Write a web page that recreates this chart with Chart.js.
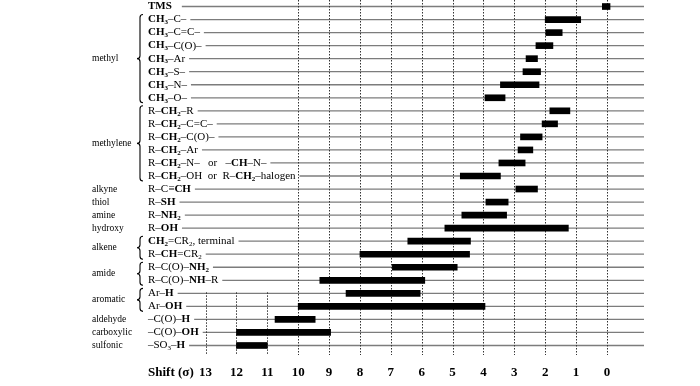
<!DOCTYPE html>
<html>
<head>
<meta charset="utf-8">
<script src="https://cdn.jsdelivr.net/npm/chart.js@4/dist/chart.umd.min.js"></script>
<style>
  html, body { margin: 0; padding: 0; background: #fff; }
  #chart { display: block; }
</style>
</head>
<body>
<canvas id="chart" width="700" height="386"></canvas>
<script>
// row labels: ^ toggles bold, _ puts the next char in subscript
const rowLabels = [
    '^TMS^',
    '^CH_3^–C–',
    '^CH_3^–C=C–',
    '^CH_3^–C(O)–',
    '^CH_3^–Ar',
    '^CH_3^–S–',
    '^CH_3^–N–',
    '^CH_3^–O–',
    'R–^CH_2^–R',
    'R–^CH_2^–C=C–',
    'R–^CH_2^–C(O)–',
    'R–^CH_2^–Ar',
    'R–^CH_2^–N–   or   –^CH^–N–',
    'R–^CH_2^–OH  or  R–^CH_2^–halogen',
    'R–C≡^CH^',
    'R–^SH^',
    'R–^NH_2^',
    'R–^OH^',
    '^CH_2^=CR_2, terminal',
    'R–^CH^=CR_2',
    'R–C(O)–^NH_2^',
    'R–C(O)–^NH^–R',
    'Ar–^H^',
    'Ar–^OH^',
    '–C(O)–^H^',
    '–C(O)–^OH^',
    '–SO_3–^H^'
];

// shift ranges in ppm
const shiftLow  = [-0.1, 0.85, 1.45, 1.75, 2.25, 2.15, 2.2, 3.3, 1.2, 1.6, 2.1, 2.4, 2.65, 3.45,
                   2.25, 3.2, 3.25, 1.25, 4.42, 4.45, 4.85, 5.9, 6.05, 3.95, 9.45, 8.95, 11.0];
const shiftHigh = [0.15, 2.0, 1.98, 2.3, 2.62, 2.72, 3.45, 3.95, 1.85, 2.1, 2.8, 2.88, 3.5, 4.75,
                   2.95, 3.92, 4.7, 5.25, 6.45, 8.0, 6.95, 9.3, 8.45, 10.0, 10.75, 12.0, 12.0];

const shiftTicks = [13, 12, 11, 10, 9, 8, 7, 6, 5, 4, 3, 2, 1, 0];

const groupNames = ['methyl', 'methylene', 'alkyne', 'thiol', 'amine', 'hydroxy', 'alkene',
                    'amide', 'aromatic', 'aldehyde', 'carboxylic', 'sulfonic'];
const groupStart = [1, 8, 14, 15, 16, 17, 18, 20, 22, 24, 25, 26];
const groupEnd   = [7, 13, 14, 15, 16, 17, 19, 21, 23, 24, 25, 26];

const SERIF = '"Liberation Serif", "Times New Roman", serif';

function parseRich(str) {
    const segs = [];
    let bold = false;
    for (let i = 0; i < str.length; i++) {
        const c = str[i];
        if (c === '^') { bold = !bold; continue; }
        if (c === '_') { segs.push({ t: str[i + 1], bold: bold, sub: true }); i++; continue; }
        const last = segs[segs.length - 1];
        if (last && !last.sub && last.bold === bold) last.t += c;
        else segs.push({ t: c, bold: bold, sub: false });
    }
    return segs;
}

function plain(str) {
    return str.replace(/[\^_]/g, '');
}

function drawRich(ctx, str, x, y) {
    parseRich(str).forEach(s => {
        const size = s.sub ? 7 : 11;
        ctx.font = (s.bold ? 'bold ' : '') + size + 'px ' + SERIF;
        ctx.fillText(s.t, x, s.sub ? y + 3 : y);
        x += ctx.measureText(s.t).width;
    });
    return x;
}

function drawBrace(ctx, x, y0, y1) {
    const ym = (y0 + y1) / 2, w = 3;
    ctx.beginPath();
    ctx.moveTo(x + 2 * w, y0);
    ctx.quadraticCurveTo(x + w, y0, x + w, y0 + w);
    ctx.lineTo(x + w, ym - w);
    ctx.quadraticCurveTo(x + w, ym, x, ym);
    ctx.quadraticCurveTo(x + w, ym, x + w, ym + w);
    ctx.lineTo(x + w, y1 - w);
    ctx.quadraticCurveTo(x + w, y1, x + 2 * w, y1);
    ctx.stroke();
}

const labelPlugin = {
    id: 'rowLabels',
    beforeDatasetsDraw(chart) {
        const ctx = chart.ctx;
        const xs = chart.scales.x;
        const ys = chart.scales.y;
        const area = chart.chartArea;
        const labelX = 148;

        ctx.save();
        ctx.textBaseline = 'middle';
        ctx.fillStyle = '#000';

        // row labels + leader lines
        rowLabels.forEach((lab, i) => {
            const y = ys.getPixelForValue(i);
            const end = drawRich(ctx, lab, labelX, y);
            ctx.strokeStyle = '#7c7c7c';
            ctx.lineWidth = 1.3;
            ctx.beginPath();
            ctx.moveTo(end + (i === 0 ? 10 : 4), y);
            ctx.lineTo(area.right, y);
            ctx.stroke();
        });

        // dotted shift lines
        ctx.strokeStyle = '#333';
        ctx.lineWidth = 1;
        ctx.setLineDash([1.5, 1.5]);
        shiftTicks.forEach(v => {
            const x = Math.round(xs.getPixelForValue(v)) + 0.5;
            const top = v > 10 ? ys.getPixelForValue(22) - 1 : 0;
            ctx.beginPath();
            ctx.moveTo(x, top);
            ctx.lineTo(x, area.bottom + 3);
            ctx.stroke();
        });
        ctx.setLineDash([]);

        // group names and braces
        ctx.font = '9.5px ' + SERIF;
        ctx.strokeStyle = '#000';
        ctx.lineWidth = 1.1;
        groupNames.forEach((g, k) => {
            const y0 = ys.getPixelForValue(groupStart[k]);
            const y1 = ys.getPixelForValue(groupEnd[k]);
            ctx.fillText(g, 92, (y0 + y1) / 2);
            if (groupEnd[k] > groupStart[k]) drawBrace(ctx, 137, y0 - 5, y1 + 5);
        });

        ctx.font = 'bold 13px ' + SERIF;
        ctx.fillText('Shift (σ)', 148, 373);
        ctx.restore();
    }
};

new Chart(document.getElementById('chart'), {
    type: 'bar',
    data: {
        labels: rowLabels.map(plain),
        datasets: [{
            data: rowLabels.map((_, i) => [shiftLow[i], shiftHigh[i]]),
            backgroundColor: '#000',
            borderWidth: 0,
            borderSkipped: false,
            barThickness: 6
        }]
    },
    options: {
        indexAxis: 'y',
        responsive: false,
        animation: false,
        devicePixelRatio: 1,
        layout: { padding: { left: 150, right: 56, top: 0, bottom: 5 } },
        plugins: { legend: { display: false }, tooltip: { enabled: false } },
        scales: {
            x: {
                type: 'linear',
                reverse: true,
                min: -1.2,
                max: 14.8,
                afterBuildTicks: axis => { axis.ticks = shiftTicks.map(v => ({ value: v })); },
                afterFit: axis => { axis.height = 29; },
                grid: { display: false, drawTicks: false },
                border: { display: false },
                ticks: {
                    autoSkip: false,
                    maxRotation: 0,
                    padding: 13,
                    color: '#000',
                    font: { family: SERIF, size: 13, weight: 'bold' }
                }
            },
            y: { type: 'category', display: false }
        }
    },
    plugins: [labelPlugin]
});
</script>
</body>
</html>
